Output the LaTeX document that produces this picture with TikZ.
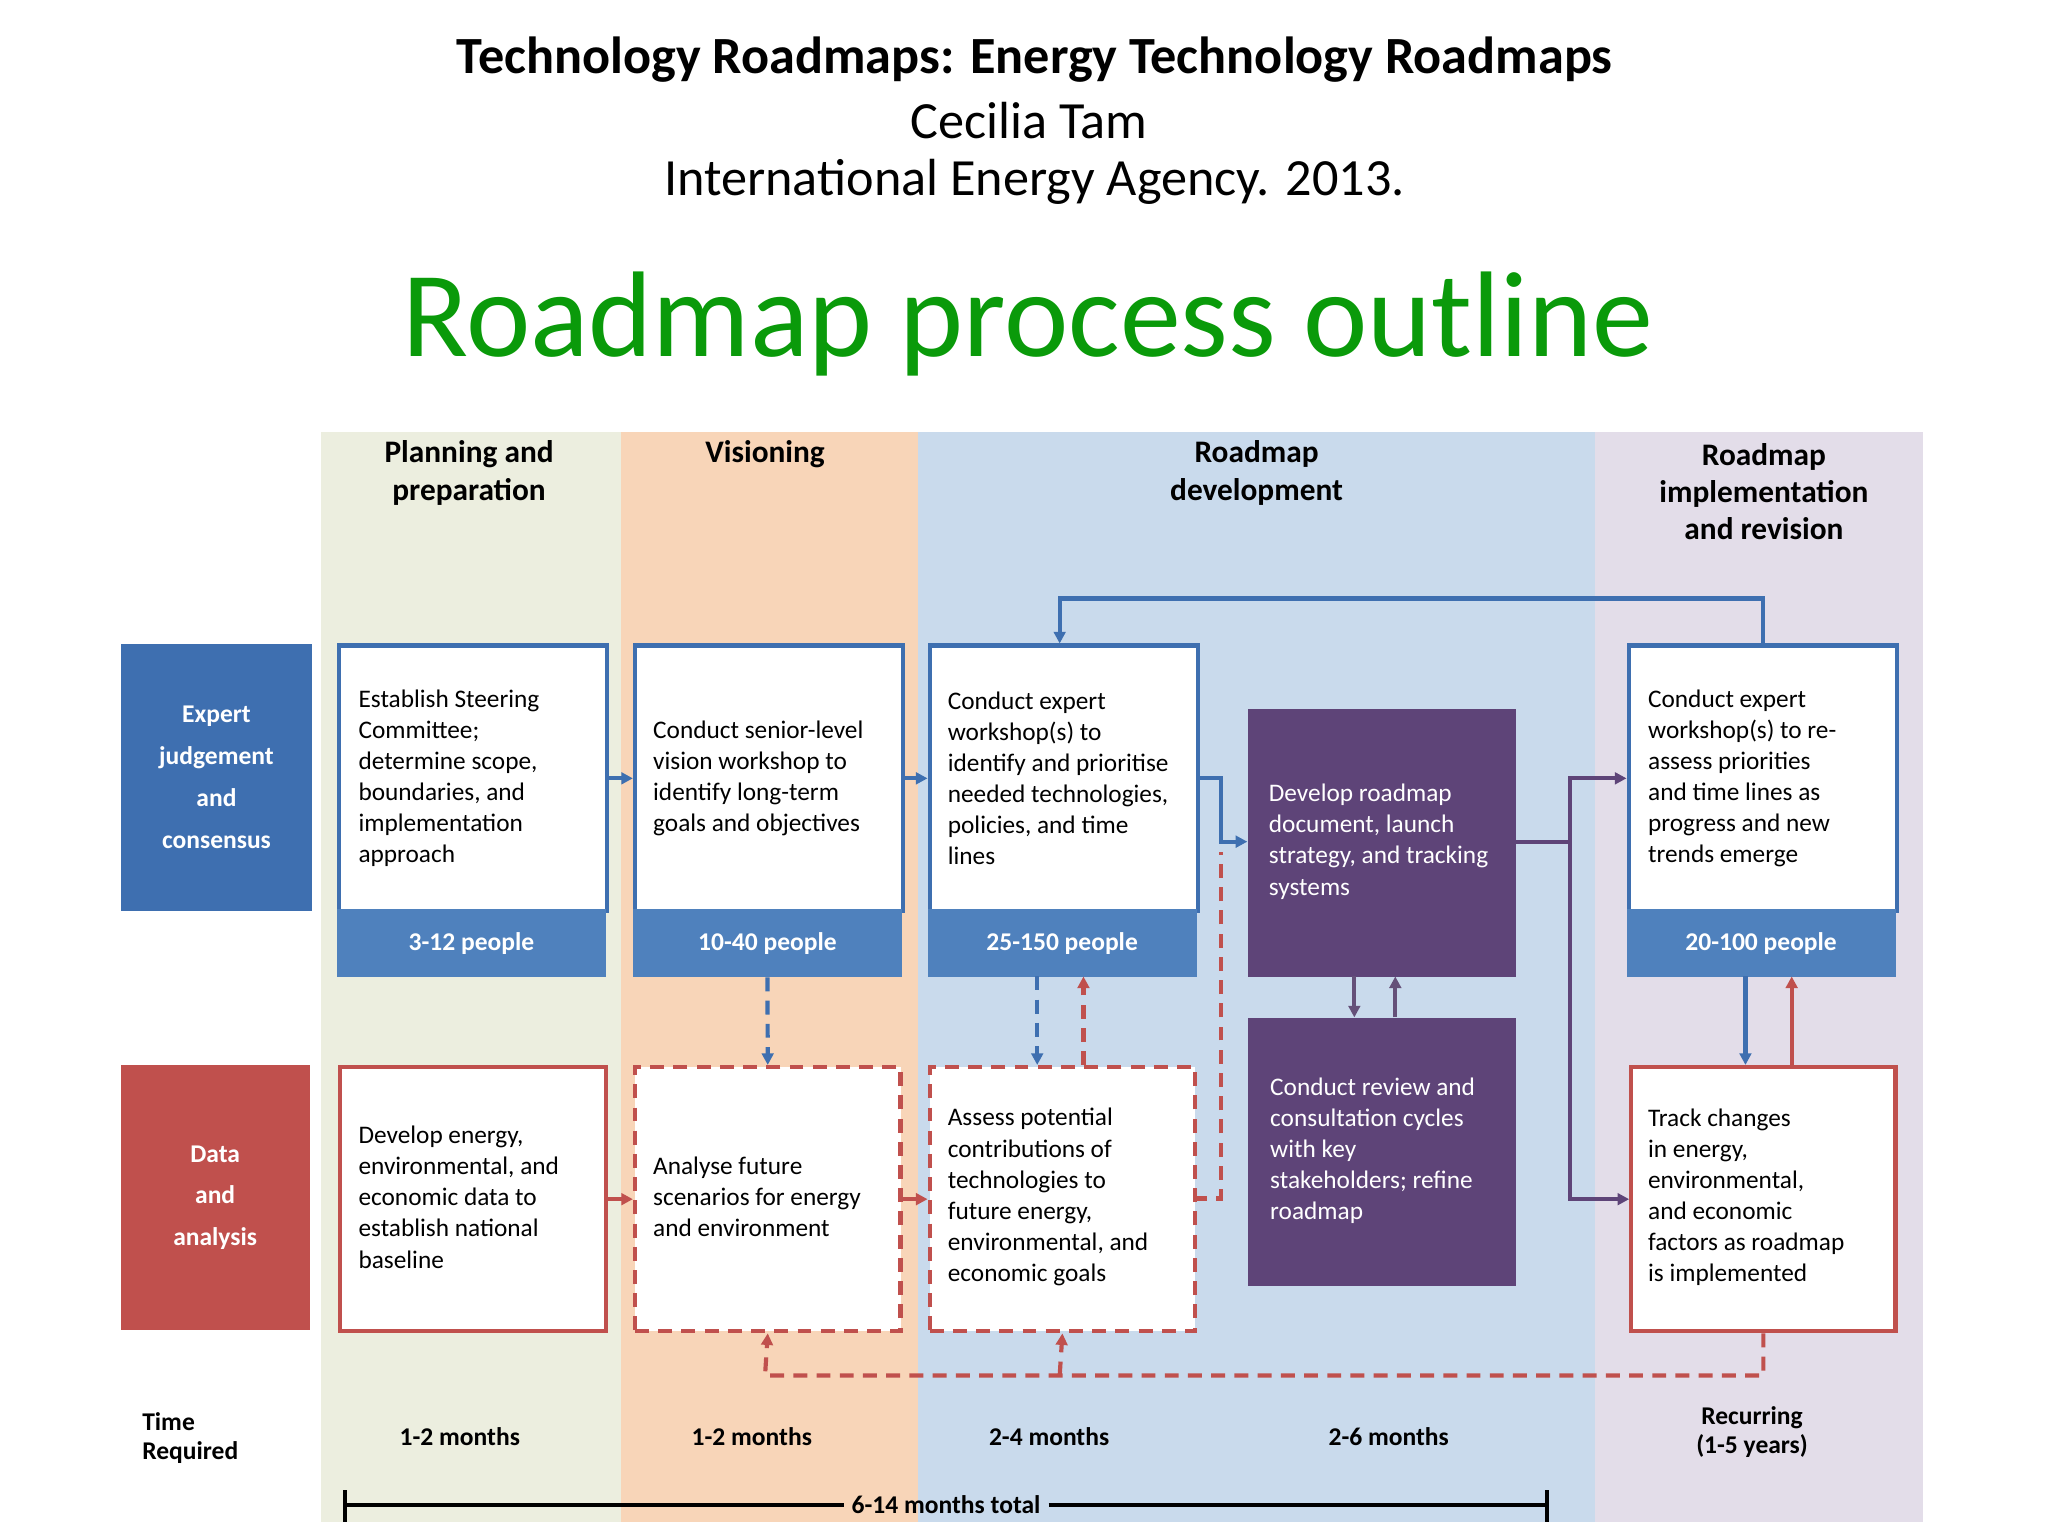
\documentclass[tikz,border=0pt]{standalone}
\usepackage{fontspec}
\setmainfont{Carlito}
\usetikzlibrary{arrows.meta}
\definecolor{cPlan}{HTML}{ECEEDF}
\definecolor{cVis}{HTML}{F8D5B8}
\definecolor{cDev}{HTML}{C9DAEC}
\definecolor{cImp}{HTML}{E3DDE9}
\definecolor{cBlue}{HTML}{3E6FB0}
\definecolor{cFoot}{HTML}{4F81BD}
\definecolor{cRed}{HTML}{C0504D}
\definecolor{cPur}{HTML}{5E4478}
\definecolor{cGreen}{HTML}{0A9A0A}
\begin{document}
\begin{tikzpicture}[x=0.02cm,y=-0.02cm,
  tip/.style={-{Triangle[length=5pt,width=5pt]}},
  tbox/.style={draw=cBlue,line width=1.8pt,fill=white,anchor=north west,minimum width=4.06cm,minimum height=4.02cm,inner sep=0pt},
  foot/.style={fill=cFoot,draw=cFoot,anchor=north west,minimum width=4.06cm,minimum height=1.02cm,text=white,font=\fontsize{11}{13}\selectfont\bfseries,inner sep=0pt},
  rbox/.style={draw=cRed,line width=1.8pt,fill=white,anchor=north west,minimum width=4.02cm,minimum height=4.0cm,inner sep=0pt},
  rdbox/.style={rbox,dashed,dash pattern=on 6pt off 4pt},
  pbox/.style={fill=cPur,anchor=north west,minimum width=4.06cm,minimum height=4.06cm,inner sep=0pt},
  txt/.style={anchor=west,align=left,font=\fontsize{10.9}{13.4}\selectfont,inner sep=0pt},
  wtxt/.style={txt,text=white},
  head/.style={align=center,font=\fontsize{13.5}{16}\selectfont\bfseries},
  side/.style={anchor=north west,text=white,align=center,font=\fontsize{11}{18}\selectfont\bfseries,inner sep=0pt},
  tm/.style={font=\fontsize{11}{12.5}\selectfont\bfseries,align=center},
  bl/.style={draw=cBlue,line width=1.8pt},
  rl/.style={draw=cRed,line width=1.8pt},
  rd/.style={draw=cRed,line width=1.8pt,dash pattern=on 6pt off 4pt},
  bd/.style={draw=cBlue,line width=1.8pt,dash pattern=on 6pt off 4pt},
  pl/.style={draw=cPur,line width=1.8pt}]
\useasboundingbox (0,0) rectangle (1550,1163);
\fill[white] (0,0) rectangle (1550,1163);
% titles
\node[font=\fontsize{22.5}{27}\selectfont\bfseries] (t1) at (783,45) {Technology Roadmaps: Energy Technology Roadmaps};
\node[font=\fontsize{22.5}{27}\selectfont] (t2) at (779,91) {Cecilia Tam};
\node[font=\fontsize{22.5}{27}\selectfont] (t3) at (783,138) {International Energy Agency. 2013.};
\node[font=\fontsize{52.5}{60}\selectfont,text=cGreen] (t4) at (778,245) {Roadmap process outline};
% columns
\fill[cPlan] (243,327) rectangle (470,1152);
\fill[cVis] (470,327) rectangle (695,1152);
\fill[cDev] (695,327) rectangle (1207,1152);
\fill[cImp] (1207,327) rectangle (1455,1152);
\node[head] (h1) at (355,358) {Planning and\\preparation};
\node[head] (h2) at (579,344) {Visioning};
\node[head] (h3) at (951,358) {Roadmap\\development};
\node[head] (h4) at (1335,372) {Roadmap\\implementation\\and revision};
% side labels
\node[side,fill=cBlue,minimum width=2.9cm,minimum height=4.04cm] (ex) at (91,487) {Expert\\judgement\\and\\consensus};
\node[side,fill=cRed,minimum width=2.86cm,minimum height=4.0cm] (da) at (91,806) {Data\\and\\analysis};
% connectors behind
\draw[rd] (903,907) -- (924,907) -- (924,645);
\draw[bl,tip] (904,589) -- (924,589) |- (944,637);
% top boxes
\node[tbox] (b1) at (255,487) {};
\node[foot] (f1) at (255,688) {3-12 people};
\node[tbox] (b2) at (479,487) {};
\node[foot] (f2) at (479,688) {10-40 people};
\node[tbox] (b3) at (702,487) {};
\node[foot] (f3) at (702,688) {25-150 people};
\node[tbox] (b5) at (1231,487) {};
\node[foot] (f5) at (1231,688) {20-100 people};
\node[txt] (x1) at (271,589) {Establish Steering\\Committee;\\determine scope,\\boundaries, and\\implementation\\approach};
\node[txt] (x2) at (494,589) {Conduct senior-level\\vision workshop to\\identify long-term\\goals and objectives};
\node[txt] (x3) at (717,589) {Conduct expert\\workshop(s) to\\identify and prioritise\\needed technologies,\\policies, and time\\lines};
\node[txt] (x5) at (1247,589) {Conduct expert\\workshop(s) to re-\\assess priorities\\and time lines as\\progress and new\\trends emerge};
% purple
\node[pbox] (p1) at (944,536) {};
\node[pbox] (p2) at (944,770) {};
\node[wtxt] (y1) at (960,637) {Develop roadmap\\document, launch\\strategy, and tracking\\systems};
\node[wtxt] (y2) at (961,871) {Conduct review and\\consultation cycles\\with key\\stakeholders; refine\\roadmap};
% bottom boxes
\node[rbox] (d1) at (256,806) {};
\node[rdbox] (d2) at (479,806) {};
\node[rdbox] (d3) at (702,806) {};
\node[rbox,minimum width=4.0cm] (d5) at (1233,806) {};
\node[txt] (z1) at (271,906) {Develop energy,\\environmental, and\\economic data to\\establish national\\baseline};
\node[txt] (z2) at (494,906) {Analyse future\\scenarios for energy\\and environment};
\node[txt] (z3) at (717,906) {Assess potential\\contributions of\\technologies to\\future energy,\\environmental, and\\economic goals};
\node[txt] (z5) at (1247,906) {Track changes\\in energy,\\environmental,\\and economic\\factors as roadmap\\is implemented};
% connectors
\draw[bl,tip] (b1.east) -- (b2.west);
\draw[bl,tip] (b2.east) -- (b3.west);
\draw[rl,tip] (d1.east) -- (d2.west);
\draw[rl,tip] (d2.east) -- (d3.west);
\coordinate (j) at (1188,637);
\draw[pl] (p1.east |- j) -- (j);
\draw[pl,tip] (j) |- (b5.west);
\draw[pl,tip] (j) |- (d5.west);
\draw[bl,tip] (b5.north) |- (802,453) -- (b3.north -| 802,0);
\draw[bd,tip] (f2.south) -- (d2.north);
\draw[bd,tip] (785,739) -- (785,806);
\draw[rd,tip] (820,806) -- (820,739);
\draw[draw=cPur!80!gray,line width=1.8pt,tip] (1025,739) -- (1025,770);
\draw[draw=cPur!80!gray,line width=1.8pt,tip] (1056,770) -- (1056,739);
\draw[bl,tip] (1321,739) -- (1321,806);
\draw[rl,tip] (1356,806) -- (1356,739);
\draw[rd,tip] (d5.south) |- (579,1041) -- (d2.south);
\draw[rd,tip] (802,1041) -- (d3.south);
% time row
\node[tm,align=left] (tr) at (144,1088) {Time\\Required};
\node[tm] (m1) at (348,1087) {1-2 months};
\node[tm] (m2) at (569,1087) {1-2 months};
\node[tm] (m3) at (794,1087) {2-4 months};
\node[tm] (m4) at (1051,1087) {2-6 months};
\node[tm] (m5) at (1326,1084) {Recurring\\(1-5 years)};
\node[tm] (tot) at (716,1139) {6-14 months total};
\draw[line width=1.8pt] (261,1139) -- (tot.west);
\draw[line width=1.8pt] (tot.east) -- (1171,1139);
\draw[line width=1.8pt] (261,1128) -- (261,1152);
\draw[line width=1.8pt] (1171,1128) -- (1171,1152);
\end{tikzpicture}
\end{document}
